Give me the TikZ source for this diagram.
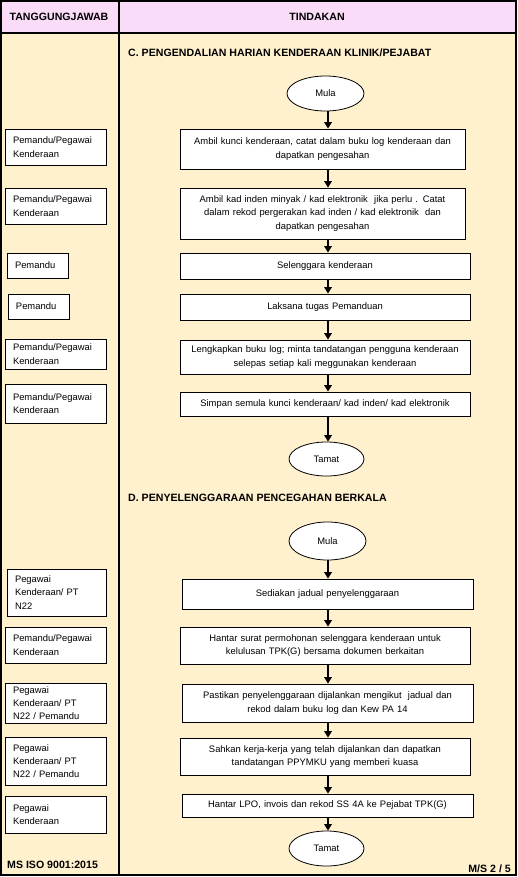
\documentclass[tikz,border=0pt]{standalone}
\usepackage{fontspec}
\setmainfont{Liberation Sans}
\usetikzlibrary{shapes.geometric,arrows.meta}
\definecolor{hdr}{RGB}{250,220,248}
\definecolor{bodyc}{RGB}{255,241,205}
\begin{document}
\begin{tikzpicture}[x=1pt,y=-1pt,
 txt/.style={font=\fontsize{9.4}{13.3}\selectfont},
 mbox/.style={txt,draw=black,fill=white,line width=0.8pt,inner sep=0pt,align=center},
 lbox/.style={txt,draw=black,fill=white,line width=0.8pt,inner xsep=8pt,inner ysep=0pt,align=left},
 term/.style={txt,ellipse,draw=black,fill=white,line width=0.8pt,inner sep=0pt},
 flow/.style={line width=2.2pt,-{Triangle[width=7.5pt,length=6.5pt]}},
 bold/.style={font=\fontsize{10.6}{12}\selectfont\bfseries,inner sep=0pt}]
\useasboundingbox (0,0) rectangle (518,877);
% background
\fill[hdr] (1,1) rectangle (516,33);
\fill[bodyc] (1,33) rectangle (516,875);
\draw[line width=1.2pt] (1,33) -- (516,33);
\draw[line width=1.2pt] (119,1) -- (119,875);
\draw[line width=1.6pt] (1,1) rectangle (516,875);
% headers
\node[bold] (h1) at (59,17) {TANGGUNGJAWAB};
\node[bold] (h2) at (317,17) {TINDAKAN};
\node[bold,anchor=west] (sc) at (128,53) {C. PENGENDALIAN HARIAN KENDERAAN KLINIK/PEJABAT};
\node[bold,anchor=west] (sd) at (128,498) {D. PENYELENGGARAAN PENCEGAHAN BERKALA};
\node[bold,anchor=west] (f1) at (7,865) {MS ISO 9001:2015};
\node[bold,anchor=east] (f2) at (511,869) {M/S 2 / 5};
\coordinate (ax) at (328,0);
% section C
\node[term,minimum width=77pt,minimum height=35pt] (m1) at (325.5,93.5) {Mula};
\node[mbox,minimum width=285pt,minimum height=40pt,text width=285pt] (b1) at (322.5,149) {Ambil kunci kenderaan, catat dalam buku log kenderaan dan\\dapatkan pengesahan};
\node[mbox,minimum width=285pt,minimum height=51pt,text width=285pt] (b2) at (322.5,213.5) {Ambil kad inden minyak / kad elektronik \ jika perlu . Catat\\dalam rekod pergerakan kad inden / kad elektronik \ dan\\dapatkan pengesahan};
\node[mbox,minimum width=290pt,minimum height=26pt,text width=290pt] (b3) at (325,266) {Selenggara kenderaan};
\node[mbox,minimum width=290pt,minimum height=26pt,text width=290pt] (b4) at (325,307) {Laksana tugas Pemanduan};
\node[mbox,minimum width=290pt,minimum height=34pt,text width=290pt] (b5) at (325,357) {Lengkapkan buku log; minta tandatangan pengguna kenderaan\\selepas setiap kali meggunakan kenderaan};
\node[mbox,minimum width=290pt,minimum height=24pt,text width=290pt] (b6) at (325,404) {Simpan semula kunci kenderaan/ kad inden/ kad elektronik};
\node[term,minimum width=75pt,minimum height=34pt] (t1) at (326.5,459) {Tamat};
% section D
\node[term,minimum width=77pt,minimum height=38pt] (m2) at (327.5,541) {Mula};
\node[mbox,minimum width=291pt,minimum height=30pt,text width=291pt] (b7) at (327.5,594) {Sediakan jadual penyelenggaraan};
\node[mbox,minimum width=290pt,minimum height=37pt,text width=290pt] (b8) at (325,645.5) {Hantar surat permohonan selenggara kenderaan untuk\\kelulusan TPK(G) bersama dokumen berkaitan};
\node[mbox,minimum width=291pt,minimum height=38pt,text width=291pt] (b9) at (327.5,703) {Pastikan penyelenggaraan dijalankan mengikut \ jadual dan\\rekod dalam buku log dan Kew PA 14};
\node[mbox,minimum width=290pt,minimum height=37pt,text width=290pt] (b10) at (325,756.5) {Sahkan kerja-kerja yang telah dijalankan dan dapatkan\\tandatangan PPYMKU yang memberi kuasa};
\node[mbox,minimum width=291pt,minimum height=23pt,text width=291pt] (b11) at (327.5,805.5) {Hantar LPO, invois dan rekod SS 4A ke Pejabat TPK(G)};
\node[term,minimum width=75pt,minimum height=35pt] (t2) at (326.5,848.5) {Tamat};
% arrows
\draw[flow] (m1.south -| ax) -- (b1.north -| ax);
\draw[flow] (b1.south -| ax) -- (b2.north -| ax);
\draw[flow] (b2.south -| ax) -- (b3.north -| ax);
\draw[flow] (b3.south -| ax) -- (b4.north -| ax);
\draw[flow] (b4.south -| ax) -- (b5.north -| ax);
\draw[flow] (b5.south -| ax) -- (b6.north -| ax);
\draw[flow] (b6.south -| ax) -- (t1.north -| ax);
\draw[flow] (m2.south -| ax) -- (b7.north -| ax);
\draw[flow] (b7.south -| ax) -- (b8.north -| ax);
\draw[flow] (b8.south -| ax) -- (b9.north -| ax);
\draw[flow] (b9.south -| ax) -- (b10.north -| ax);
\draw[flow] (b10.south -| ax) -- (b11.north -| ax);
\draw[flow] (b11.south -| ax) -- (t2.north -| ax);
% left column
\node[lbox,minimum width=101pt,minimum height=36pt,text width=85pt] (l1) at (55.5,147) {Pemandu/Pegawai\\Kenderaan};
\node[lbox,minimum width=101pt,minimum height=36pt,text width=85pt] (l2) at (55.5,206) {Pemandu/Pegawai\\Kenderaan};
\node[lbox,minimum width=61pt,minimum height=25pt,text width=45pt] (l3) at (37.5,265.5) {Pemandu};
\node[lbox,minimum width=61pt,minimum height=25pt,text width=45pt] (l4) at (38.5,306.5) {Pemandu};
\node[lbox,minimum width=101pt,minimum height=30pt,text width=85pt] (l5) at (55.5,354) {Pemandu/Pegawai\\Kenderaan};
\node[lbox,minimum width=101pt,minimum height=39pt,text width=85pt] (l6) at (55.5,403.5) {Pemandu/Pegawai\\Kenderaan};
\node[lbox,minimum width=99pt,minimum height=47pt,text width=83pt] (l7) at (56.5,592.5) {Pegawai\\Kenderaan/ PT\\N22};
\node[lbox,minimum width=101pt,minimum height=36pt,text width=85pt] (l8) at (55.5,645) {Pemandu/Pegawai\\Kenderaan};
\node[lbox,minimum width=101pt,minimum height=40pt,text width=85pt] (l9) at (55.5,703) {Pegawai\\Kenderaan/ PT\\N22 / Pemandu};
\node[lbox,minimum width=101pt,minimum height=48pt,text width=85pt] (l10) at (55.5,761) {Pegawai\\Kenderaan/ PT\\N22 / Pemandu};
\node[lbox,minimum width=101pt,minimum height=37pt,text width=85pt] (l11) at (55.5,814.5) {Pegawai\\Kenderaan};
\end{tikzpicture}
\end{document}
